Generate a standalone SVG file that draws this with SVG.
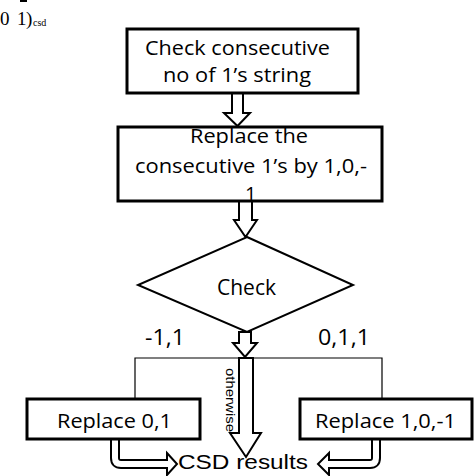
<svg xmlns="http://www.w3.org/2000/svg" width="474" height="476" viewBox="0 0 474 476">
<style>
.box{fill:#fff;stroke:#000;stroke-width:3}
.dia{fill:#fff;stroke:#000;stroke-width:2}
.t{font-family:"Open Sans","Liberation Sans",sans-serif;font-size:20px;fill:#000}
.ha{fill:#fff;stroke:#000;stroke-width:2;stroke-linejoin:miter}
.ln{fill:none;stroke:#000;stroke-width:1.2}
.ar{font-family:"Liberation Sans",Arial,sans-serif;fill:#000}
.tm{font-family:"Liberation Serif","Times New Roman",serif;fill:#000}
</style>
<rect width="474" height="476" fill="#fff"/>
<g id="fragment">
<text class="tm" x="0" y="25" font-size="19">0</text>
<text class="tm" x="17" y="25" font-size="19">1</text>
<text class="tm" x="26" y="25" font-size="19">)</text>
<text class="tm" x="33" y="26" font-size="10">csd</text>
<line x1="20" y1="1" x2="27" y2="1" stroke="#000" stroke-width="2"/>
</g>
<g id="connectors">
<polygon class="ha" points="232,93 243,93 243,113 250,113 237.5,126 224,113 232,113"/>
<polygon class="ha" points="239,200 252,200 252,220 257,220 245.5,237 234,220 239,220"/>
<polygon class="ha" points="239,332 251,332 251,343 257,343 245,357 233,343 239,343"/>
<polyline class="ln" points="135,399 135,358 382,358 382,399"/>
<polygon class="ha" points="239,358 253,358 253,433 261,433 246,457 230,433 239,433"/>
<path d="M115,440 V458 Q115,464 121,464 H168" fill="none" stroke="#000" stroke-width="10"/>
<polygon class="ha" points="167,453 177,464 167,475"/>
<path d="M115,440 V458 Q115,464 121,464 H169" fill="none" stroke="#fff" stroke-width="6"/>
<path d="M376,440 V458 Q376,464 370,464 H328" fill="none" stroke="#000" stroke-width="10"/>
<polygon class="ha" points="329,453 318,464 329,475"/>
<path d="M376,440 V458 Q376,464 370,464 H327" fill="none" stroke="#fff" stroke-width="6"/>
<text class="ar" transform="translate(226,368) rotate(90)" font-size="13" textLength="64" lengthAdjust="spacingAndGlyphs">otherwise</text>
</g>
<g id="n1">
<rect class="box" x="127" y="29" width="231" height="64"/>
<text class="t" x="145" y="55" textLength="185" lengthAdjust="spacingAndGlyphs">Check consecutive</text>
<text class="t" x="163" y="82" textLength="148" lengthAdjust="spacingAndGlyphs">no of 1’s string</text>
</g>
<g id="n2">
<rect class="box" x="118" y="127" width="264" height="74"/>
<text class="t" x="190" y="143" textLength="118" lengthAdjust="spacingAndGlyphs">Replace the</text>
<text class="t" x="135" y="173" textLength="232" lengthAdjust="spacingAndGlyphs">consecutive 1’s by 1,0,-</text>
<text class="t" x="245" y="201">1</text>
</g>
<g id="n3">
<polygon class="dia" points="247,237 353,285 247,332 138,285"/>
<text class="t" x="217" y="295" font-size="21" textLength="59" lengthAdjust="spacingAndGlyphs" style="font-size:21px">Check</text>
</g>
<g id="labels">
<text class="t" x="145" y="345" textLength="40" lengthAdjust="spacingAndGlyphs" style="font-size:21px">-1,1</text>
<text class="t" x="318" y="345" textLength="52" lengthAdjust="spacingAndGlyphs" style="font-size:21px">0,1,1</text>
</g>
<g id="n4">
<rect class="box" x="27" y="399" width="173" height="40"/>
<text class="t" x="57" y="428" textLength="115" lengthAdjust="spacingAndGlyphs">Replace 0,1</text>
</g>
<g id="n5">
<rect class="box" x="300" y="399" width="172" height="40"/>
<text class="t" x="315" y="428" textLength="141" lengthAdjust="spacingAndGlyphs">Replace 1,0,-1</text>
</g>
<g id="n6">
<text class="ar" x="178" y="469" font-size="21" textLength="130" lengthAdjust="spacingAndGlyphs">CSD results</text>
</g>
</svg>
